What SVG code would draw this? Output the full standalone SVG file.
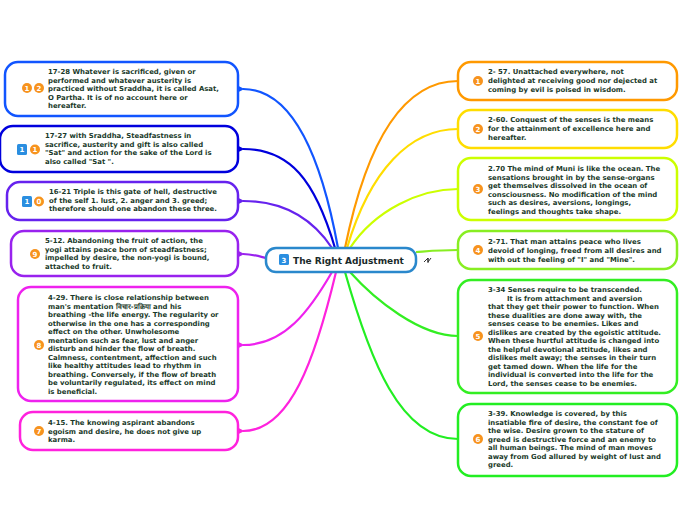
<svg xmlns="http://www.w3.org/2000/svg" width="697" height="520" viewBox="0 0 697 520">
<defs>
<style>
.n{fill:#fff;stroke-width:2.5}
.t{font-family:"DejaVu Sans",Verdana,sans-serif;font-weight:bold;font-size:6.9px;fill:#1a3a2a}
.c{fill:none;stroke-width:2.2}
.b{fill:#f7931e}
.bt{font-family:"DejaVu Sans",sans-serif;font-weight:bold;font-size:7px;fill:#fff;text-anchor:middle}
.sq{fill:#2a8ee0}
</style>
<marker id="a" viewBox="0 0 10 10" refX="2" refY="5" markerWidth="3.5" markerHeight="3.5" orient="auto-start-reverse"><path d="M0,5 L10,0 L7,5 L10,10 Z" fill="context-stroke"/></marker>
</defs>
<rect width="697" height="520" fill="#fff"/>
<g id="connectors">
<path class="c" stroke="#ff9900" d="M345,248 C365,150 400,81 458,81"/>
<path class="c" stroke="#ffdd00" d="M347,248 C370,170 410,129 458,129"/>
<path class="c" stroke="#ccff00" d="M350,248 C375,210 420,189 458,189"/>
<path class="c" stroke="#88ee22" d="M416,252 C430,251 440,250 458,250"/>
<path class="c" stroke="#33ee22" d="M350,272 C375,300 420,336 458,336"/>
<path class="c" stroke="#22ee22" d="M345,272 C370,360 400,439 458,439"/>
<path class="c" stroke="#1155ff" marker-end="url(#a)" d="M338,248 C320,150 290,89 243,89"/>
<path class="c" stroke="#0000dd" marker-end="url(#a)" d="M335,248 C315,180 290,149 243,149"/>
<path class="c" stroke="#6622ee" marker-end="url(#a)" d="M332,248 C310,215 280,201 243,201"/>
<path class="c" stroke="#9922ee" marker-end="url(#a)" d="M266,258 C258,256 252,254 243,254"/>
<path class="c" stroke="#ee22ee" marker-end="url(#a)" d="M332,272 C310,310 285,345 243,345"/>
<path class="c" stroke="#ff22dd" marker-end="url(#a)" d="M336,272 C315,360 290,431 243,431"/>
</g>
<g id="center">
<rect x="266" y="248" width="150" height="24" rx="10" fill="#fff" stroke="#2a88cc" stroke-width="2.5"/>
<rect x="279" y="254" width="10" height="11" rx="1.5" class="sq"/>
<text x="284" y="262.5" class="bt">3</text>
<text x="293" y="264" font-family="DejaVu Sans,sans-serif" font-weight="bold" font-size="9" fill="#1a2a2a">The Right Adjustment</text>
<path d="M424,262 L428,258 L428,262 L431,258 M428,258 L428,263" stroke="#333" stroke-width="1" fill="none"/>
</g>
<g id="n1">
<rect class="n" stroke="#ff9900" x="458" y="62" width="219" height="38" rx="13"/>
<circle class="b" cx="478" cy="81" r="5"/><text class="bt" x="478" y="83.5">1</text>
<text class="t"><tspan x="488" y="74">2- 57. Unattached everywhere, not</tspan><tspan x="488" y="83">delighted at receiving good nor dejected at</tspan><tspan x="488" y="92">coming by evil is poised in wisdom.</tspan></text>
</g>
<g id="n2">
<rect class="n" stroke="#ffdd00" x="458" y="110" width="219" height="38" rx="13"/>
<circle class="b" cx="478" cy="129" r="5"/><text class="bt" x="478" y="131.5">2</text>
<text class="t"><tspan x="488" y="122">2-60. Conquest of the senses is the means</tspan><tspan x="488" y="131">for the attainment of excellence here and</tspan><tspan x="488" y="140">hereafter.</tspan></text>
</g>
<g id="n3">
<rect class="n" stroke="#ccff00" x="458" y="158" width="219" height="62" rx="13"/>
<circle class="b" cx="478" cy="189" r="5"/><text class="bt" x="478" y="191.5">3</text>
<text class="t"><tspan x="488" y="171">2.70 The mind of Muni is like the ocean. The</tspan><tspan x="488" y="179.5">sensations brought in by the sense-organs</tspan><tspan x="488" y="188">get themselves dissolved in the ocean of</tspan><tspan x="488" y="196.5">consciousness. No modification of the mind</tspan><tspan x="488" y="205">such as desires, aversions, longings,</tspan><tspan x="488" y="213.5">feelings and thoughts take shape.</tspan></text>
</g>
<g id="n4">
<rect class="n" stroke="#88ee22" x="458" y="231" width="219" height="38" rx="13"/>
<circle class="b" cx="478" cy="250" r="5"/><text class="bt" x="478" y="252.5">4</text>
<text class="t"><tspan x="488" y="244">2-71. That man attains peace who lives</tspan><tspan x="488" y="253">devoid of longing, freed from all desires and</tspan><tspan x="488" y="262">with out the feeling of "I" and "Mine".</tspan></text>
</g>
<g id="n5">
<rect class="n" stroke="#33ee22" x="458" y="280" width="219" height="113" rx="13"/>
<circle class="b" cx="478" cy="336" r="5"/><text class="bt" x="478" y="338.5">5</text>
<text class="t"><tspan x="488" y="292">3-34 Senses require to be transcended.</tspan><tspan x="507" y="300.5">It is from attachment and aversion</tspan><tspan x="488" y="309">that they get their power to function. When</tspan><tspan x="488" y="317.5">these dualities are done away with, the</tspan><tspan x="488" y="326">senses cease to be enemies. Likes and</tspan><tspan x="488" y="334.5">dislikes are created by the egoistic attitude.</tspan><tspan x="488" y="343">When these hurtful attitude is changed into</tspan><tspan x="488" y="351.5">the helpful devotional attitude, likes and</tspan><tspan x="488" y="360">dislikes melt away; the senses in their turn</tspan><tspan x="488" y="368.5">get tamed down. When the life for the</tspan><tspan x="488" y="377">individual is converted into the life for the</tspan><tspan x="488" y="385.5">Lord, the senses cease to be enemies.</tspan></text>
</g>
<g id="n6">
<rect class="n" stroke="#22ee22" x="458" y="404" width="219" height="72" rx="13"/>
<circle class="b" cx="478" cy="439" r="5"/><text class="bt" x="478" y="441.5">6</text>
<text class="t"><tspan x="488" y="416">3-39. Knowledge is covered, by this</tspan><tspan x="488" y="424.5">insatiable fire of desire, the constant foe of</tspan><tspan x="488" y="433">the wise. Desire grown to the stature of</tspan><tspan x="488" y="441.5">greed is destructive force and an enemy to</tspan><tspan x="488" y="450">all human beings. The mind of man moves</tspan><tspan x="488" y="458.5">away from God allured by weight of lust and</tspan><tspan x="488" y="467">greed.</tspan></text>
</g>
<g id="n12">
<rect class="n" stroke="#1155ff" x="5" y="62" width="233" height="54" rx="13"/>
<circle class="b" cx="27" cy="88" r="5"/><text class="bt" x="27" y="90.5">1</text>
<circle class="b" cx="39" cy="88" r="5"/><text class="bt" x="39" y="90.5">2</text>
<text class="t"><tspan x="48" y="74">17-28 Whatever is sacrificed, given or</tspan><tspan x="48" y="82.5">performed and whatever austerity is</tspan><tspan x="48" y="91">practiced without Sraddha, it is called Asat,</tspan><tspan x="48" y="99.5">O Partha. It is of no account here or</tspan><tspan x="48" y="108">hereafter.</tspan></text>
</g>
<g id="n11">
<rect class="n" stroke="#0000dd" x="0" y="126" width="238" height="46" rx="13"/>
<rect class="sq" x="17" y="144" width="10" height="11" rx="1.5"/><text class="bt" x="22" y="152">1</text>
<circle class="b" cx="35" cy="149.5" r="5"/><text class="bt" x="35" y="152">1</text>
<text class="t"><tspan x="45" y="138">17-27  with Sraddha, Steadfastness in</tspan><tspan x="45" y="146.5">sacrifice, austerity and gift is also called</tspan><tspan x="45" y="155">"Sat" and action for the sake of the Lord is</tspan><tspan x="45" y="163.5">also called "Sat ".</tspan></text>
</g>
<g id="n10">
<rect class="n" stroke="#6622ee" x="7" y="182" width="231" height="38" rx="13"/>
<rect class="sq" x="22" y="196" width="10" height="11" rx="1.5"/><text class="bt" x="27" y="204">1</text>
<circle class="b" cx="39" cy="201.5" r="5"/><text class="bt" x="39" y="204">0</text>
<text class="t"><tspan x="49" y="194">16-21 Triple is this gate of hell, destructive</tspan><tspan x="49" y="202.5">of the self 1. lust, 2. anger and 3. greed;</tspan><tspan x="49" y="211">therefore should one abandon these three.</tspan></text>
</g>
<g id="n9">
<rect class="n" stroke="#9922ee" x="11" y="231" width="227" height="45" rx="13"/>
<circle class="b" cx="35" cy="254" r="5"/><text class="bt" x="35" y="256.5">9</text>
<text class="t"><tspan x="45" y="243">5-12. Abandoning the fruit of action, the</tspan><tspan x="45" y="251.5">yogi attains peace born of steadfastness;</tspan><tspan x="45" y="260">impelled by desire, the non-yogi is bound,</tspan><tspan x="45" y="268.5">attached to fruit.</tspan></text>
</g>
<g id="n8">
<rect class="n" stroke="#ee22ee" x="18" y="287" width="220" height="114" rx="13"/>
<circle class="b" cx="39" cy="345" r="5"/><text class="bt" x="39" y="347.5">8</text>
<text class="t"><tspan x="48" y="300">4-29. There is close relationship between</tspan><tspan x="48" y="308.5">man's mentation विचार-प्रक्रिया and his</tspan><tspan x="48" y="317">breathing -the life energy. The regularity or</tspan><tspan x="48" y="325.5">otherwise in the one has a corresponding</tspan><tspan x="48" y="334">effect on the other. Unwholesome</tspan><tspan x="48" y="342.5">mentation such as fear, lust and anger</tspan><tspan x="48" y="351">disturb and hinder the flow of breath.</tspan><tspan x="48" y="359.5">Calmness, contentment, affection and such</tspan><tspan x="48" y="368">like healthy attitudes lead to rhythm in</tspan><tspan x="48" y="376.5">breathing. Conversely, if the flow of breath</tspan><tspan x="48" y="385">be voluntarily regulated, its effect on mind</tspan><tspan x="48" y="393.5">is beneficial.</tspan></text>
</g>
<g id="n7">
<rect class="n" stroke="#ff22dd" x="20" y="412" width="218" height="38" rx="13"/>
<circle class="b" cx="39" cy="431" r="5"/><text class="bt" x="39" y="433.5">7</text>
<text class="t"><tspan x="48" y="425">4-15. The knowing aspirant abandons</tspan><tspan x="48" y="433.5">egoism and desire, he does not give up</tspan><tspan x="48" y="442">karma.</tspan></text>
</g>
</svg>
